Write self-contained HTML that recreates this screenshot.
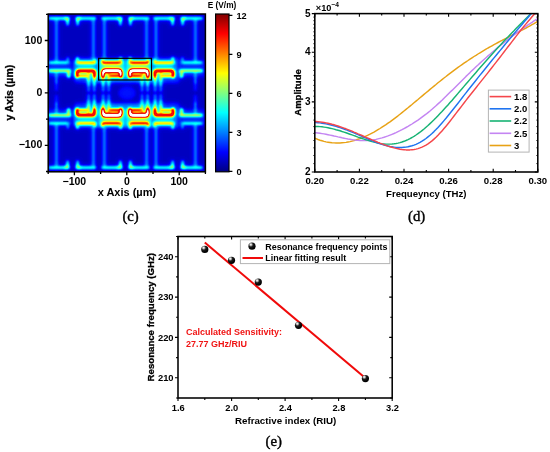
<!DOCTYPE html>
<html><head><meta charset="utf-8"><title>Figure</title>
<style>
html,body{margin:0;padding:0;background:#fff;}
body{width:550px;height:452px;overflow:hidden;}
svg{display:block;}
text{font-family:"Liberation Sans", sans-serif;font-weight:bold;fill:#000;}
.cap{font-family:"Liberation Serif", serif;font-weight:normal;fill:#000;stroke:#000;stroke-width:0.4px;}
</style></head><body>
<svg width="550" height="452" viewBox="0 0 550 452">
<rect width="550" height="452" fill="#fff"/>

<defs>
<filter id="jet" x="-5%" y="-5%" width="110%" height="110%" color-interpolation-filters="sRGB">
<feGaussianBlur in="SourceGraphic" stdDeviation="1.05" result="a"/>
<feGaussianBlur in="SourceGraphic" stdDeviation="2.8" result="b"/>
<feComposite in="a" in2="b" operator="arithmetic" k1="0" k2="1.1" k3="0.6" k4="0.012" result="s"/>
<feComponentTransfer in="s">
<feFuncR type="table" tableValues="0 0 0 0 0.5 1 1 1 0.86 1 1"/>
<feFuncG type="table" tableValues="0 0 0.5 1 1 1 0.5 0 0.12 1 1"/>
<feFuncB type="table" tableValues="0.5 1 1 1 0.5 0 0 0 0.12 1 1"/>
<feFuncA type="linear" slope="0" intercept="1"/>
</feComponentTransfer>
</filter>
<clipPath id="cpc"><rect x="48.2" y="14" width="157.2" height="157.8"/></clipPath>
<linearGradient id="cb" x1="0" y1="1" x2="0" y2="0">
<stop offset="0" stop-color="rgb(0,0,128)"/>
<stop offset="0.125" stop-color="rgb(0,0,255)"/>
<stop offset="0.375" stop-color="rgb(0,255,255)"/>
<stop offset="0.5" stop-color="rgb(128,255,128)"/>
<stop offset="0.625" stop-color="rgb(255,255,0)"/>
<stop offset="0.875" stop-color="rgb(255,0,0)"/>
<stop offset="1" stop-color="rgb(128,0,0)"/>
</linearGradient>
<radialGradient id="ball" cx="0.36" cy="0.3" r="0.62" fx="0.33" fy="0.27">
<stop offset="0" stop-color="#fff"/><stop offset="0.18" stop-color="#cfcfcf"/><stop offset="0.5" stop-color="#1c1c1c"/><stop offset="1" stop-color="#000"/></radialGradient>
</defs>
<g clip-path="url(#cpc)"><g filter="url(#jet)">
<rect x="28.200000000000003" y="-6.0" width="197.2" height="197.8" fill="rgb(6,6,6)"/>
<ellipse cx="127" cy="93" rx="9" ry="7" fill="rgb(15,15,15)"/>
<rect x="74" y="57.5" width="106" height="26" rx="4" fill="rgb(17,17,17)"/>
<rect x="96" y="58.5" width="58" height="24" rx="4" fill="rgb(26,26,26)"/>
<rect x="74" y="102.5" width="106" height="26" rx="4" fill="rgb(17,17,17)"/>
<rect x="96" y="103.5" width="58" height="24" rx="4" fill="rgb(26,26,26)"/>
<rect x="46.2" y="60.1" width="25.700000000000003" height="17.2" rx="2" fill="rgb(15,15,15)"/>
<rect x="46.2" y="108.7" width="25.700000000000003" height="17.2" rx="2" fill="rgb(15,15,15)"/>
<rect x="73.3" y="60.1" width="25.0" height="17.2" rx="2" fill="rgb(27,27,27)"/>
<rect x="73.3" y="108.7" width="25.0" height="17.2" rx="2" fill="rgb(27,27,27)"/>
<rect x="99.1" y="60.1" width="25.60000000000001" height="17.2" rx="2" fill="rgb(41,41,41)"/>
<rect x="99.1" y="108.7" width="25.60000000000001" height="17.2" rx="2" fill="rgb(41,41,41)"/>
<rect x="126.1" y="60.1" width="25.599999999999994" height="17.2" rx="2" fill="rgb(41,41,41)"/>
<rect x="126.1" y="108.7" width="25.599999999999994" height="17.2" rx="2" fill="rgb(41,41,41)"/>
<rect x="151.1" y="60.1" width="25.80000000000001" height="17.2" rx="2" fill="rgb(27,27,27)"/>
<rect x="151.1" y="108.7" width="25.80000000000001" height="17.2" rx="2" fill="rgb(27,27,27)"/>
<rect x="178.3" y="60.1" width="26.69999999999999" height="17.2" rx="2" fill="rgb(15,15,15)"/>
<rect x="178.3" y="108.7" width="26.69999999999999" height="17.2" rx="2" fill="rgb(15,15,15)"/>
<path d="M56.4,18.4 L56.4,62.6" fill="none" stroke="rgb(32,32,32)" stroke-width="3.4" stroke-linecap="round" stroke-linejoin="round"/>
<path d="M49.7,18.4 L68.4,18.4" fill="none" stroke="rgb(60,60,60)" stroke-width="2.8" stroke-linecap="round" stroke-linejoin="round"/>
<path d="M67.6,18.4 L67.6,24.4" fill="none" stroke="rgb(56,56,56)" stroke-width="2.4" stroke-linecap="round" stroke-linejoin="round"/>
<path d="M65.4,18.4 L67.6,18.4 L67.6,20.9" fill="none" stroke="rgb(83,83,83)" stroke-width="2.2" stroke-linecap="round" stroke-linejoin="round"/>
<rect x="49.7" y="62.6" width="18.700000000000003" height="8.2" fill="rgb(14,14,14)"/>
<path d="M56.4,82.8 L56.4,89.8" fill="none" stroke="rgb(22,22,22)" stroke-width="2.6" stroke-linecap="round" stroke-linejoin="round"/>
<path d="M56.4,70.8 L56.4,82.8" fill="none" stroke="rgb(41,41,41)" stroke-width="2.2" stroke-linecap="round" stroke-linejoin="round"/>
<path d="M49.7,62.6 L68.4,62.6" fill="none" stroke="rgb(78,78,78)" stroke-width="1.9" stroke-linecap="round" stroke-linejoin="round"/>
<path d="M67.8,62.6 L67.8,58.1" fill="none" stroke="rgb(45,45,45)" stroke-width="2.0" stroke-linecap="round" stroke-linejoin="round"/>
<path d="M49.7,70.8 L69.7,70.8 L68.7,71.8 L68.7,76.6" fill="none" stroke="rgb(88,88,88)" stroke-width="2.5" stroke-linecap="round" stroke-linejoin="round"/>
<path d="M56.4,167.6 L56.4,123.4" fill="none" stroke="rgb(32,32,32)" stroke-width="3.4" stroke-linecap="round" stroke-linejoin="round"/>
<path d="M49.7,167.6 L68.4,167.6" fill="none" stroke="rgb(60,60,60)" stroke-width="2.8" stroke-linecap="round" stroke-linejoin="round"/>
<path d="M67.6,167.6 L67.6,161.6" fill="none" stroke="rgb(56,56,56)" stroke-width="2.4" stroke-linecap="round" stroke-linejoin="round"/>
<path d="M65.4,167.6 L67.6,167.6 L67.6,165.1" fill="none" stroke="rgb(83,83,83)" stroke-width="2.2" stroke-linecap="round" stroke-linejoin="round"/>
<rect x="49.7" y="115.2" width="18.700000000000003" height="8.2" fill="rgb(14,14,14)"/>
<path d="M56.4,103.2 L56.4,96.2" fill="none" stroke="rgb(22,22,22)" stroke-width="2.6" stroke-linecap="round" stroke-linejoin="round"/>
<path d="M56.4,115.2 L56.4,103.2" fill="none" stroke="rgb(41,41,41)" stroke-width="2.2" stroke-linecap="round" stroke-linejoin="round"/>
<path d="M49.7,123.4 L68.4,123.4" fill="none" stroke="rgb(78,78,78)" stroke-width="1.9" stroke-linecap="round" stroke-linejoin="round"/>
<path d="M67.8,123.4 L67.8,127.9" fill="none" stroke="rgb(45,45,45)" stroke-width="2.0" stroke-linecap="round" stroke-linejoin="round"/>
<path d="M49.7,115.2 L69.7,115.2 L68.7,114.2 L68.7,109.4" fill="none" stroke="rgb(88,88,88)" stroke-width="2.5" stroke-linecap="round" stroke-linejoin="round"/>
<path d="M93.4,18.4 L93.4,62.6" fill="none" stroke="rgb(32,32,32)" stroke-width="3.4" stroke-linecap="round" stroke-linejoin="round"/>
<path d="M76.8,18.4 L94.8,18.4" fill="none" stroke="rgb(60,60,60)" stroke-width="2.8" stroke-linecap="round" stroke-linejoin="round"/>
<path d="M77.6,18.4 L77.6,24.4" fill="none" stroke="rgb(56,56,56)" stroke-width="2.4" stroke-linecap="round" stroke-linejoin="round"/>
<path d="M79.8,18.4 L77.6,18.4 L77.6,20.9" fill="none" stroke="rgb(83,83,83)" stroke-width="2.2" stroke-linecap="round" stroke-linejoin="round"/>
<rect x="76.8" y="62.6" width="18.0" height="8.2" fill="rgb(32,32,32)"/>
<path d="M94.3,84.8 L94.3,90.8" fill="none" stroke="rgb(34,34,34)" stroke-width="2.8" stroke-linecap="round" stroke-linejoin="round"/>
<path d="M94.3,79.8 L94.3,84.8" fill="none" stroke="rgb(61,61,61)" stroke-width="2.6" stroke-linecap="round" stroke-linejoin="round"/>
<path d="M94.3,73.8 L94.3,79.8" fill="none" stroke="rgb(92,92,92)" stroke-width="2.4" stroke-linecap="round" stroke-linejoin="round"/>
<path d="M88.6,84.8 L88.6,90.8" fill="none" stroke="rgb(31,31,31)" stroke-width="2.8" stroke-linecap="round" stroke-linejoin="round"/>
<path d="M88.6,79.8 L88.6,84.8" fill="none" stroke="rgb(56,56,56)" stroke-width="2.6" stroke-linecap="round" stroke-linejoin="round"/>
<path d="M88.6,73.8 L88.6,79.8" fill="none" stroke="rgb(84,84,84)" stroke-width="2.4" stroke-linecap="round" stroke-linejoin="round"/>
<path d="M76.8,62.6 L94.8,62.6" fill="none" stroke="rgb(138,138,138)" stroke-width="1.9" stroke-linecap="round" stroke-linejoin="round"/>
<path d="M77.4,62.6 L77.4,58.1" fill="none" stroke="rgb(80,80,80)" stroke-width="2.0" stroke-linecap="round" stroke-linejoin="round"/>
<path d="M94.8,62.6 L94.8,60.1" fill="none" stroke="rgb(106,106,106)" stroke-width="1.8" stroke-linecap="round" stroke-linejoin="round"/>
<path d="M77.1,76.6 L77.1,71.8 L78.1,70.8 L93.5,70.8 L94.5,71.8 L94.5,76.6" fill="none" stroke="rgb(153,153,153)" stroke-width="2.7" stroke-linecap="round" stroke-linejoin="round"/>
<path d="M79.6,76.0 L86.8,76.0" fill="none" stroke="rgb(122,122,122)" stroke-width="1.8" stroke-linecap="round" stroke-linejoin="round"/>
<path d="M93.4,167.6 L93.4,123.4" fill="none" stroke="rgb(32,32,32)" stroke-width="3.4" stroke-linecap="round" stroke-linejoin="round"/>
<path d="M76.8,167.6 L94.8,167.6" fill="none" stroke="rgb(60,60,60)" stroke-width="2.8" stroke-linecap="round" stroke-linejoin="round"/>
<path d="M77.6,167.6 L77.6,161.6" fill="none" stroke="rgb(56,56,56)" stroke-width="2.4" stroke-linecap="round" stroke-linejoin="round"/>
<path d="M79.8,167.6 L77.6,167.6 L77.6,165.1" fill="none" stroke="rgb(83,83,83)" stroke-width="2.2" stroke-linecap="round" stroke-linejoin="round"/>
<rect x="76.8" y="115.2" width="18.0" height="8.2" fill="rgb(32,32,32)"/>
<path d="M94.3,101.2 L94.3,95.2" fill="none" stroke="rgb(34,34,34)" stroke-width="2.8" stroke-linecap="round" stroke-linejoin="round"/>
<path d="M94.3,106.2 L94.3,101.2" fill="none" stroke="rgb(61,61,61)" stroke-width="2.6" stroke-linecap="round" stroke-linejoin="round"/>
<path d="M94.3,112.2 L94.3,106.2" fill="none" stroke="rgb(92,92,92)" stroke-width="2.4" stroke-linecap="round" stroke-linejoin="round"/>
<path d="M88.6,101.2 L88.6,95.2" fill="none" stroke="rgb(31,31,31)" stroke-width="2.8" stroke-linecap="round" stroke-linejoin="round"/>
<path d="M88.6,106.2 L88.6,101.2" fill="none" stroke="rgb(56,56,56)" stroke-width="2.6" stroke-linecap="round" stroke-linejoin="round"/>
<path d="M88.6,112.2 L88.6,106.2" fill="none" stroke="rgb(84,84,84)" stroke-width="2.4" stroke-linecap="round" stroke-linejoin="round"/>
<path d="M76.8,123.4 L94.8,123.4" fill="none" stroke="rgb(138,138,138)" stroke-width="1.9" stroke-linecap="round" stroke-linejoin="round"/>
<path d="M77.4,123.4 L77.4,127.9" fill="none" stroke="rgb(80,80,80)" stroke-width="2.0" stroke-linecap="round" stroke-linejoin="round"/>
<path d="M94.8,123.4 L94.8,125.9" fill="none" stroke="rgb(106,106,106)" stroke-width="1.8" stroke-linecap="round" stroke-linejoin="round"/>
<path d="M77.1,109.4 L77.1,114.2 L78.1,115.2 L93.5,115.2 L94.5,114.2 L94.5,109.4" fill="none" stroke="rgb(153,153,153)" stroke-width="2.7" stroke-linecap="round" stroke-linejoin="round"/>
<path d="M79.6,110.0 L86.8,110.0" fill="none" stroke="rgb(122,122,122)" stroke-width="1.8" stroke-linecap="round" stroke-linejoin="round"/>
<path d="M104.3,18.4 L104.3,62.6" fill="none" stroke="rgb(32,32,32)" stroke-width="3.4" stroke-linecap="round" stroke-linejoin="round"/>
<path d="M102.6,18.4 L121.2,18.4" fill="none" stroke="rgb(60,60,60)" stroke-width="2.8" stroke-linecap="round" stroke-linejoin="round"/>
<path d="M120.4,18.4 L120.4,24.4" fill="none" stroke="rgb(56,56,56)" stroke-width="2.4" stroke-linecap="round" stroke-linejoin="round"/>
<path d="M118.2,18.4 L120.4,18.4 L120.4,20.9" fill="none" stroke="rgb(83,83,83)" stroke-width="2.2" stroke-linecap="round" stroke-linejoin="round"/>
<rect x="102.6" y="62.6" width="18.60000000000001" height="8.2" fill="rgb(51,51,51)"/>
<path d="M103.1,84.8 L103.1,90.8" fill="none" stroke="rgb(34,34,34)" stroke-width="2.8" stroke-linecap="round" stroke-linejoin="round"/>
<path d="M103.1,79.8 L103.1,84.8" fill="none" stroke="rgb(61,61,61)" stroke-width="2.6" stroke-linecap="round" stroke-linejoin="round"/>
<path d="M103.1,73.8 L103.1,79.8" fill="none" stroke="rgb(92,92,92)" stroke-width="2.4" stroke-linecap="round" stroke-linejoin="round"/>
<path d="M108.8,84.8 L108.8,90.8" fill="none" stroke="rgb(31,31,31)" stroke-width="2.8" stroke-linecap="round" stroke-linejoin="round"/>
<path d="M108.8,79.8 L108.8,84.8" fill="none" stroke="rgb(56,56,56)" stroke-width="2.6" stroke-linecap="round" stroke-linejoin="round"/>
<path d="M108.8,73.8 L108.8,79.8" fill="none" stroke="rgb(84,84,84)" stroke-width="2.4" stroke-linecap="round" stroke-linejoin="round"/>
<path d="M102.6,62.6 L121.2,62.6" fill="none" stroke="rgb(170,170,170)" stroke-width="1.9" stroke-linecap="round" stroke-linejoin="round"/>
<path d="M120.6,62.6 L120.6,58.1" fill="none" stroke="rgb(98,98,98)" stroke-width="2.0" stroke-linecap="round" stroke-linejoin="round"/>
<path d="M102.6,62.6 L102.6,60.1" fill="none" stroke="rgb(131,131,131)" stroke-width="1.8" stroke-linecap="round" stroke-linejoin="round"/>
<path d="M102.9,76.6 L102.9,71.8 L103.9,70.8 L119.9,70.8 L120.9,71.8 L120.9,76.6" fill="none" stroke="rgb(184,184,184)" stroke-width="2.7" stroke-linecap="round" stroke-linejoin="round"/>
<path d="M104.1,70.6 L119.7,70.6" fill="none" stroke="rgb(184,184,184)" stroke-width="3.3" stroke-linecap="round" stroke-linejoin="round"/>
<path d="M110.6,76.0 L118.4,76.0" fill="none" stroke="rgb(147,147,147)" stroke-width="1.8" stroke-linecap="round" stroke-linejoin="round"/>
<path d="M104.3,167.6 L104.3,123.4" fill="none" stroke="rgb(32,32,32)" stroke-width="3.4" stroke-linecap="round" stroke-linejoin="round"/>
<path d="M102.6,167.6 L121.2,167.6" fill="none" stroke="rgb(60,60,60)" stroke-width="2.8" stroke-linecap="round" stroke-linejoin="round"/>
<path d="M120.4,167.6 L120.4,161.6" fill="none" stroke="rgb(56,56,56)" stroke-width="2.4" stroke-linecap="round" stroke-linejoin="round"/>
<path d="M118.2,167.6 L120.4,167.6 L120.4,165.1" fill="none" stroke="rgb(83,83,83)" stroke-width="2.2" stroke-linecap="round" stroke-linejoin="round"/>
<rect x="102.6" y="115.2" width="18.60000000000001" height="8.2" fill="rgb(51,51,51)"/>
<path d="M103.1,101.2 L103.1,95.2" fill="none" stroke="rgb(34,34,34)" stroke-width="2.8" stroke-linecap="round" stroke-linejoin="round"/>
<path d="M103.1,106.2 L103.1,101.2" fill="none" stroke="rgb(61,61,61)" stroke-width="2.6" stroke-linecap="round" stroke-linejoin="round"/>
<path d="M103.1,112.2 L103.1,106.2" fill="none" stroke="rgb(92,92,92)" stroke-width="2.4" stroke-linecap="round" stroke-linejoin="round"/>
<path d="M108.8,101.2 L108.8,95.2" fill="none" stroke="rgb(31,31,31)" stroke-width="2.8" stroke-linecap="round" stroke-linejoin="round"/>
<path d="M108.8,106.2 L108.8,101.2" fill="none" stroke="rgb(56,56,56)" stroke-width="2.6" stroke-linecap="round" stroke-linejoin="round"/>
<path d="M108.8,112.2 L108.8,106.2" fill="none" stroke="rgb(84,84,84)" stroke-width="2.4" stroke-linecap="round" stroke-linejoin="round"/>
<path d="M102.6,123.4 L121.2,123.4" fill="none" stroke="rgb(170,170,170)" stroke-width="1.9" stroke-linecap="round" stroke-linejoin="round"/>
<path d="M120.6,123.4 L120.6,127.9" fill="none" stroke="rgb(98,98,98)" stroke-width="2.0" stroke-linecap="round" stroke-linejoin="round"/>
<path d="M102.6,123.4 L102.6,125.9" fill="none" stroke="rgb(131,131,131)" stroke-width="1.8" stroke-linecap="round" stroke-linejoin="round"/>
<path d="M102.9,109.4 L102.9,114.2 L103.9,115.2 L119.9,115.2 L120.9,114.2 L120.9,109.4" fill="none" stroke="rgb(184,184,184)" stroke-width="2.7" stroke-linecap="round" stroke-linejoin="round"/>
<path d="M104.1,115.4 L119.7,115.4" fill="none" stroke="rgb(184,184,184)" stroke-width="3.3" stroke-linecap="round" stroke-linejoin="round"/>
<path d="M110.6,110.0 L118.4,110.0" fill="none" stroke="rgb(147,147,147)" stroke-width="1.8" stroke-linecap="round" stroke-linejoin="round"/>
<path d="M146.6,18.4 L146.6,62.6" fill="none" stroke="rgb(32,32,32)" stroke-width="3.4" stroke-linecap="round" stroke-linejoin="round"/>
<path d="M129.6,18.4 L148.2,18.4" fill="none" stroke="rgb(60,60,60)" stroke-width="2.8" stroke-linecap="round" stroke-linejoin="round"/>
<path d="M130.4,18.4 L130.4,24.4" fill="none" stroke="rgb(56,56,56)" stroke-width="2.4" stroke-linecap="round" stroke-linejoin="round"/>
<path d="M132.6,18.4 L130.4,18.4 L130.4,20.9" fill="none" stroke="rgb(83,83,83)" stroke-width="2.2" stroke-linecap="round" stroke-linejoin="round"/>
<rect x="129.6" y="62.6" width="18.599999999999994" height="8.2" fill="rgb(51,51,51)"/>
<path d="M147.7,84.8 L147.7,90.8" fill="none" stroke="rgb(34,34,34)" stroke-width="2.8" stroke-linecap="round" stroke-linejoin="round"/>
<path d="M147.7,79.8 L147.7,84.8" fill="none" stroke="rgb(61,61,61)" stroke-width="2.6" stroke-linecap="round" stroke-linejoin="round"/>
<path d="M147.7,73.8 L147.7,79.8" fill="none" stroke="rgb(92,92,92)" stroke-width="2.4" stroke-linecap="round" stroke-linejoin="round"/>
<path d="M142.0,84.8 L142.0,90.8" fill="none" stroke="rgb(31,31,31)" stroke-width="2.8" stroke-linecap="round" stroke-linejoin="round"/>
<path d="M142.0,79.8 L142.0,84.8" fill="none" stroke="rgb(56,56,56)" stroke-width="2.6" stroke-linecap="round" stroke-linejoin="round"/>
<path d="M142.0,73.8 L142.0,79.8" fill="none" stroke="rgb(84,84,84)" stroke-width="2.4" stroke-linecap="round" stroke-linejoin="round"/>
<path d="M129.6,62.6 L148.2,62.6" fill="none" stroke="rgb(170,170,170)" stroke-width="1.9" stroke-linecap="round" stroke-linejoin="round"/>
<path d="M130.2,62.6 L130.2,58.1" fill="none" stroke="rgb(98,98,98)" stroke-width="2.0" stroke-linecap="round" stroke-linejoin="round"/>
<path d="M148.2,62.6 L148.2,60.1" fill="none" stroke="rgb(131,131,131)" stroke-width="1.8" stroke-linecap="round" stroke-linejoin="round"/>
<path d="M129.9,76.6 L129.9,71.8 L130.9,70.8 L146.9,70.8 L147.9,71.8 L147.9,76.6" fill="none" stroke="rgb(184,184,184)" stroke-width="2.7" stroke-linecap="round" stroke-linejoin="round"/>
<path d="M131.1,70.6 L146.7,70.6" fill="none" stroke="rgb(184,184,184)" stroke-width="3.3" stroke-linecap="round" stroke-linejoin="round"/>
<path d="M132.4,76.0 L140.2,76.0" fill="none" stroke="rgb(147,147,147)" stroke-width="1.8" stroke-linecap="round" stroke-linejoin="round"/>
<path d="M146.6,167.6 L146.6,123.4" fill="none" stroke="rgb(32,32,32)" stroke-width="3.4" stroke-linecap="round" stroke-linejoin="round"/>
<path d="M129.6,167.6 L148.2,167.6" fill="none" stroke="rgb(60,60,60)" stroke-width="2.8" stroke-linecap="round" stroke-linejoin="round"/>
<path d="M130.4,167.6 L130.4,161.6" fill="none" stroke="rgb(56,56,56)" stroke-width="2.4" stroke-linecap="round" stroke-linejoin="round"/>
<path d="M132.6,167.6 L130.4,167.6 L130.4,165.1" fill="none" stroke="rgb(83,83,83)" stroke-width="2.2" stroke-linecap="round" stroke-linejoin="round"/>
<rect x="129.6" y="115.2" width="18.599999999999994" height="8.2" fill="rgb(51,51,51)"/>
<path d="M147.7,101.2 L147.7,95.2" fill="none" stroke="rgb(34,34,34)" stroke-width="2.8" stroke-linecap="round" stroke-linejoin="round"/>
<path d="M147.7,106.2 L147.7,101.2" fill="none" stroke="rgb(61,61,61)" stroke-width="2.6" stroke-linecap="round" stroke-linejoin="round"/>
<path d="M147.7,112.2 L147.7,106.2" fill="none" stroke="rgb(92,92,92)" stroke-width="2.4" stroke-linecap="round" stroke-linejoin="round"/>
<path d="M142.0,101.2 L142.0,95.2" fill="none" stroke="rgb(31,31,31)" stroke-width="2.8" stroke-linecap="round" stroke-linejoin="round"/>
<path d="M142.0,106.2 L142.0,101.2" fill="none" stroke="rgb(56,56,56)" stroke-width="2.6" stroke-linecap="round" stroke-linejoin="round"/>
<path d="M142.0,112.2 L142.0,106.2" fill="none" stroke="rgb(84,84,84)" stroke-width="2.4" stroke-linecap="round" stroke-linejoin="round"/>
<path d="M129.6,123.4 L148.2,123.4" fill="none" stroke="rgb(170,170,170)" stroke-width="1.9" stroke-linecap="round" stroke-linejoin="round"/>
<path d="M130.2,123.4 L130.2,127.9" fill="none" stroke="rgb(98,98,98)" stroke-width="2.0" stroke-linecap="round" stroke-linejoin="round"/>
<path d="M148.2,123.4 L148.2,125.9" fill="none" stroke="rgb(131,131,131)" stroke-width="1.8" stroke-linecap="round" stroke-linejoin="round"/>
<path d="M129.9,109.4 L129.9,114.2 L130.9,115.2 L146.9,115.2 L147.9,114.2 L147.9,109.4" fill="none" stroke="rgb(184,184,184)" stroke-width="2.7" stroke-linecap="round" stroke-linejoin="round"/>
<path d="M131.1,115.4 L146.7,115.4" fill="none" stroke="rgb(184,184,184)" stroke-width="3.3" stroke-linecap="round" stroke-linejoin="round"/>
<path d="M132.4,110.0 L140.2,110.0" fill="none" stroke="rgb(147,147,147)" stroke-width="1.8" stroke-linecap="round" stroke-linejoin="round"/>
<path d="M156.0,18.4 L156.0,62.6" fill="none" stroke="rgb(32,32,32)" stroke-width="3.4" stroke-linecap="round" stroke-linejoin="round"/>
<path d="M154.6,18.4 L173.4,18.4" fill="none" stroke="rgb(60,60,60)" stroke-width="2.8" stroke-linecap="round" stroke-linejoin="round"/>
<path d="M172.6,18.4 L172.6,24.4" fill="none" stroke="rgb(56,56,56)" stroke-width="2.4" stroke-linecap="round" stroke-linejoin="round"/>
<path d="M170.4,18.4 L172.6,18.4 L172.6,20.9" fill="none" stroke="rgb(83,83,83)" stroke-width="2.2" stroke-linecap="round" stroke-linejoin="round"/>
<rect x="154.6" y="62.6" width="18.80000000000001" height="8.2" fill="rgb(32,32,32)"/>
<path d="M155.1,84.8 L155.1,90.8" fill="none" stroke="rgb(34,34,34)" stroke-width="2.8" stroke-linecap="round" stroke-linejoin="round"/>
<path d="M155.1,79.8 L155.1,84.8" fill="none" stroke="rgb(61,61,61)" stroke-width="2.6" stroke-linecap="round" stroke-linejoin="round"/>
<path d="M155.1,73.8 L155.1,79.8" fill="none" stroke="rgb(92,92,92)" stroke-width="2.4" stroke-linecap="round" stroke-linejoin="round"/>
<path d="M160.8,84.8 L160.8,90.8" fill="none" stroke="rgb(31,31,31)" stroke-width="2.8" stroke-linecap="round" stroke-linejoin="round"/>
<path d="M160.8,79.8 L160.8,84.8" fill="none" stroke="rgb(56,56,56)" stroke-width="2.6" stroke-linecap="round" stroke-linejoin="round"/>
<path d="M160.8,73.8 L160.8,79.8" fill="none" stroke="rgb(84,84,84)" stroke-width="2.4" stroke-linecap="round" stroke-linejoin="round"/>
<path d="M154.6,62.6 L173.4,62.6" fill="none" stroke="rgb(138,138,138)" stroke-width="1.9" stroke-linecap="round" stroke-linejoin="round"/>
<path d="M172.8,62.6 L172.8,58.1" fill="none" stroke="rgb(80,80,80)" stroke-width="2.0" stroke-linecap="round" stroke-linejoin="round"/>
<path d="M154.6,62.6 L154.6,60.1" fill="none" stroke="rgb(106,106,106)" stroke-width="1.8" stroke-linecap="round" stroke-linejoin="round"/>
<path d="M154.9,76.6 L154.9,71.8 L155.9,70.8 L172.1,70.8 L173.1,71.8 L173.1,76.6" fill="none" stroke="rgb(153,153,153)" stroke-width="2.7" stroke-linecap="round" stroke-linejoin="round"/>
<path d="M162.6,76.0 L170.6,76.0" fill="none" stroke="rgb(122,122,122)" stroke-width="1.8" stroke-linecap="round" stroke-linejoin="round"/>
<path d="M156.0,167.6 L156.0,123.4" fill="none" stroke="rgb(32,32,32)" stroke-width="3.4" stroke-linecap="round" stroke-linejoin="round"/>
<path d="M154.6,167.6 L173.4,167.6" fill="none" stroke="rgb(60,60,60)" stroke-width="2.8" stroke-linecap="round" stroke-linejoin="round"/>
<path d="M172.6,167.6 L172.6,161.6" fill="none" stroke="rgb(56,56,56)" stroke-width="2.4" stroke-linecap="round" stroke-linejoin="round"/>
<path d="M170.4,167.6 L172.6,167.6 L172.6,165.1" fill="none" stroke="rgb(83,83,83)" stroke-width="2.2" stroke-linecap="round" stroke-linejoin="round"/>
<rect x="154.6" y="115.2" width="18.80000000000001" height="8.2" fill="rgb(32,32,32)"/>
<path d="M155.1,101.2 L155.1,95.2" fill="none" stroke="rgb(34,34,34)" stroke-width="2.8" stroke-linecap="round" stroke-linejoin="round"/>
<path d="M155.1,106.2 L155.1,101.2" fill="none" stroke="rgb(61,61,61)" stroke-width="2.6" stroke-linecap="round" stroke-linejoin="round"/>
<path d="M155.1,112.2 L155.1,106.2" fill="none" stroke="rgb(92,92,92)" stroke-width="2.4" stroke-linecap="round" stroke-linejoin="round"/>
<path d="M160.8,101.2 L160.8,95.2" fill="none" stroke="rgb(31,31,31)" stroke-width="2.8" stroke-linecap="round" stroke-linejoin="round"/>
<path d="M160.8,106.2 L160.8,101.2" fill="none" stroke="rgb(56,56,56)" stroke-width="2.6" stroke-linecap="round" stroke-linejoin="round"/>
<path d="M160.8,112.2 L160.8,106.2" fill="none" stroke="rgb(84,84,84)" stroke-width="2.4" stroke-linecap="round" stroke-linejoin="round"/>
<path d="M154.6,123.4 L173.4,123.4" fill="none" stroke="rgb(138,138,138)" stroke-width="1.9" stroke-linecap="round" stroke-linejoin="round"/>
<path d="M172.8,123.4 L172.8,127.9" fill="none" stroke="rgb(80,80,80)" stroke-width="2.0" stroke-linecap="round" stroke-linejoin="round"/>
<path d="M154.6,123.4 L154.6,125.9" fill="none" stroke="rgb(106,106,106)" stroke-width="1.8" stroke-linecap="round" stroke-linejoin="round"/>
<path d="M154.9,109.4 L154.9,114.2 L155.9,115.2 L172.1,115.2 L173.1,114.2 L173.1,109.4" fill="none" stroke="rgb(153,153,153)" stroke-width="2.7" stroke-linecap="round" stroke-linejoin="round"/>
<path d="M162.6,110.0 L170.6,110.0" fill="none" stroke="rgb(122,122,122)" stroke-width="1.8" stroke-linecap="round" stroke-linejoin="round"/>
<path d="M195.4,18.4 L195.4,62.6" fill="none" stroke="rgb(32,32,32)" stroke-width="3.4" stroke-linecap="round" stroke-linejoin="round"/>
<path d="M181.8,18.4 L201.5,18.4" fill="none" stroke="rgb(60,60,60)" stroke-width="2.8" stroke-linecap="round" stroke-linejoin="round"/>
<path d="M182.6,18.4 L182.6,24.4" fill="none" stroke="rgb(56,56,56)" stroke-width="2.4" stroke-linecap="round" stroke-linejoin="round"/>
<path d="M184.8,18.4 L182.6,18.4 L182.6,20.9" fill="none" stroke="rgb(83,83,83)" stroke-width="2.2" stroke-linecap="round" stroke-linejoin="round"/>
<rect x="181.8" y="62.6" width="19.69999999999999" height="8.2" fill="rgb(14,14,14)"/>
<path d="M195.4,82.8 L195.4,89.8" fill="none" stroke="rgb(22,22,22)" stroke-width="2.6" stroke-linecap="round" stroke-linejoin="round"/>
<path d="M195.4,70.8 L195.4,82.8" fill="none" stroke="rgb(41,41,41)" stroke-width="2.2" stroke-linecap="round" stroke-linejoin="round"/>
<path d="M181.8,62.6 L201.5,62.6" fill="none" stroke="rgb(78,78,78)" stroke-width="1.9" stroke-linecap="round" stroke-linejoin="round"/>
<path d="M182.4,62.6 L182.4,58.1" fill="none" stroke="rgb(45,45,45)" stroke-width="2.0" stroke-linecap="round" stroke-linejoin="round"/>
<path d="M201.5,70.8 L180.5,70.8 L181.5,71.8 L181.5,76.6" fill="none" stroke="rgb(88,88,88)" stroke-width="2.5" stroke-linecap="round" stroke-linejoin="round"/>
<path d="M195.4,167.6 L195.4,123.4" fill="none" stroke="rgb(32,32,32)" stroke-width="3.4" stroke-linecap="round" stroke-linejoin="round"/>
<path d="M181.8,167.6 L201.5,167.6" fill="none" stroke="rgb(60,60,60)" stroke-width="2.8" stroke-linecap="round" stroke-linejoin="round"/>
<path d="M182.6,167.6 L182.6,161.6" fill="none" stroke="rgb(56,56,56)" stroke-width="2.4" stroke-linecap="round" stroke-linejoin="round"/>
<path d="M184.8,167.6 L182.6,167.6 L182.6,165.1" fill="none" stroke="rgb(83,83,83)" stroke-width="2.2" stroke-linecap="round" stroke-linejoin="round"/>
<rect x="181.8" y="115.2" width="19.69999999999999" height="8.2" fill="rgb(14,14,14)"/>
<path d="M195.4,103.2 L195.4,96.2" fill="none" stroke="rgb(22,22,22)" stroke-width="2.6" stroke-linecap="round" stroke-linejoin="round"/>
<path d="M195.4,115.2 L195.4,103.2" fill="none" stroke="rgb(41,41,41)" stroke-width="2.2" stroke-linecap="round" stroke-linejoin="round"/>
<path d="M181.8,123.4 L201.5,123.4" fill="none" stroke="rgb(78,78,78)" stroke-width="1.9" stroke-linecap="round" stroke-linejoin="round"/>
<path d="M182.4,123.4 L182.4,127.9" fill="none" stroke="rgb(45,45,45)" stroke-width="2.0" stroke-linecap="round" stroke-linejoin="round"/>
<path d="M201.5,115.2 L180.5,115.2 L181.5,114.2 L181.5,109.4" fill="none" stroke="rgb(88,88,88)" stroke-width="2.5" stroke-linecap="round" stroke-linejoin="round"/>
</g></g>
<rect x="98.6" y="58.3" width="52.9" height="21.7" fill="none" stroke="#000" stroke-width="1.2"/>
<rect x="48.2" y="14.0" width="157.2" height="157.8" fill="none" stroke="#000" stroke-width="1.5"/>
<path d="M74.4,171.8 v3.4 M48.2,145.3 h-3.4 M126.8,171.8 v3.4 M48.2,92.9 h-3.4 M179.2,171.8 v3.4 M48.2,40.5 h-3.4 M48.2,171.8 v2.2 M48.2,171.5 h-2.2 M100.6,171.8 v2.2 M48.2,119.1 h-2.2 M153.0,171.8 v2.2 M48.2,66.7 h-2.2 M205.4,171.8 v2.2 M48.2,14.3 h-2.2" stroke="#000" stroke-width="1.3" fill="none"/>
<text x="74.4" y="185.4" text-anchor="middle" style="font-size:10.5px;">−100</text>
<text x="42.3" y="148.4" text-anchor="end" style="font-size:10.5px;">−100</text>
<text x="126.8" y="185.4" text-anchor="middle" style="font-size:10.5px;">0</text>
<text x="42.3" y="96.0" text-anchor="end" style="font-size:10.5px;">0</text>
<text x="179.2" y="185.4" text-anchor="middle" style="font-size:10.5px;">100</text>
<text x="42.3" y="43.6" text-anchor="end" style="font-size:10.5px;">100</text>
<text x="126.9" y="196.4" text-anchor="middle" style="font-size:11.0px;">x Axis (µm)</text>
<text transform="translate(12.5,92.7) rotate(-90)" text-anchor="middle" style="font-size:10.5px;stroke:#000;stroke-width:0.3px">y Axis (µm)</text>
<rect x="215.6" y="14.0" width="13.400000000000006" height="157.8" fill="url(#cb)" stroke="#000" stroke-width="1.2"/>
<text x="236.4" y="174.8" text-anchor="start" style="font-size:9.2px;">0</text>
<text x="236.4" y="135.8" text-anchor="start" style="font-size:9.2px;">3</text>
<text x="236.4" y="96.8" text-anchor="start" style="font-size:9.2px;">6</text>
<text x="236.4" y="57.7" text-anchor="start" style="font-size:9.2px;">9</text>
<text x="236.4" y="18.7" text-anchor="start" style="font-size:9.2px;">12</text>
<path d="M229.0,171.4 h3.4 M229.0,132.4 h3.4 M229.0,93.4 h3.4 M229.0,54.3 h3.4 M229.0,15.3 h3.4" stroke="#000" stroke-width="1.3" fill="none"/>
<text x="207.8" y="8.3" text-anchor="start" style="font-size:8.25px;">E (V/m)</text>
<text class="cap" x="130.6" y="221.0" text-anchor="middle" style="font-size:14.8px;">(c)</text>
<clipPath id="cpd"><rect x="314.8" y="13.6" width="222.99999999999994" height="158.4"/></clipPath>
<g clip-path="url(#cpd)" fill="none" stroke-width="1.45" stroke-linejoin="round">
<path d="M314.0,137.9 L316.0,138.7 L318.0,139.5 L320.0,140.2 L322.0,140.8 L324.0,141.4 L326.0,141.9 L328.0,142.2 L330.0,142.5 L332.0,142.8 L334.0,142.9 L336.0,143.0 L338.0,143.0 L340.0,143.0 L342.0,142.8 L344.0,142.6 L346.0,142.4 L348.0,142.0 L350.0,141.6 L352.0,141.1 L354.0,140.6 L356.0,140.0 L358.0,139.3 L360.0,138.6 L362.0,137.8 L364.0,137.0 L366.0,136.1 L368.0,135.2 L370.0,134.2 L372.0,133.1 L374.0,132.1 L376.0,130.9 L378.0,129.7 L380.0,128.5 L382.0,127.2 L384.0,125.9 L386.0,124.6 L388.0,123.2 L390.0,121.8 L392.0,120.3 L394.0,118.8 L396.0,117.3 L398.0,115.8 L400.0,114.2 L402.0,112.6 L404.0,111.0 L406.0,109.4 L408.0,107.8 L410.0,106.1 L412.0,104.5 L414.0,102.8 L416.0,101.1 L418.0,99.5 L420.0,97.8 L422.0,96.1 L424.0,94.4 L426.0,92.7 L428.0,91.1 L430.0,89.4 L432.0,87.7 L434.0,86.1 L436.0,84.5 L438.0,82.8 L440.0,81.2 L442.0,79.6 L444.0,78.0 L446.0,76.5 L448.0,74.9 L450.0,73.4 L452.0,71.9 L454.0,70.4 L456.0,68.9 L458.0,67.4 L460.0,66.0 L462.0,64.6 L464.0,63.2 L466.0,61.8 L468.0,60.5 L470.0,59.1 L472.0,57.8 L474.0,56.5 L476.0,55.3 L478.0,54.0 L480.0,52.8 L482.0,51.6 L484.0,50.4 L486.0,49.2 L488.0,48.0 L490.0,46.9 L492.0,45.8 L494.0,44.7 L496.0,43.6 L498.0,42.5 L500.0,41.4 L502.0,40.4 L504.0,39.3 L506.0,38.3 L508.0,37.3 L510.0,36.2 L512.0,35.2 L514.0,34.2 L516.0,33.2 L518.0,32.1 L520.0,31.1 L522.0,30.1 L524.0,29.0 L526.0,28.0 L528.0,26.9 L530.0,25.8 L532.0,24.7 L534.0,23.6 L536.0,22.4 L538.0,21.3 L540.0,20.1" stroke="#e8a215"/>
<path d="M314.0,132.7 L316.0,132.8 L318.0,133.0 L320.0,133.3 L322.0,133.6 L324.0,133.9 L326.0,134.3 L328.0,134.7 L330.0,135.1 L332.0,135.5 L334.0,136.0 L336.0,136.4 L338.0,136.9 L340.0,137.3 L342.0,137.8 L344.0,138.2 L346.0,138.6 L348.0,139.0 L350.0,139.3 L352.0,139.6 L354.0,139.9 L356.0,140.2 L358.0,140.4 L360.0,140.5 L362.0,140.6 L364.0,140.6 L366.0,140.6 L368.0,140.5 L370.0,140.3 L372.0,140.1 L374.0,139.8 L376.0,139.4 L378.0,138.9 L380.0,138.4 L382.0,137.9 L384.0,137.3 L386.0,136.6 L388.0,135.9 L390.0,135.1 L392.0,134.3 L394.0,133.5 L396.0,132.6 L398.0,131.6 L400.0,130.7 L402.0,129.7 L404.0,128.6 L406.0,127.5 L408.0,126.4 L410.0,125.2 L412.0,124.0 L414.0,122.7 L416.0,121.4 L418.0,120.1 L420.0,118.7 L422.0,117.2 L424.0,115.7 L426.0,114.2 L428.0,112.6 L430.0,111.0 L432.0,109.3 L434.0,107.5 L436.0,105.8 L438.0,103.9 L440.0,102.1 L442.0,100.2 L444.0,98.2 L446.0,96.3 L448.0,94.3 L450.0,92.3 L452.0,90.4 L454.0,88.4 L456.0,86.4 L458.0,84.4 L460.0,82.4 L462.0,80.4 L464.0,78.4 L466.0,76.4 L468.0,74.5 L470.0,72.6 L472.0,70.6 L474.0,68.7 L476.0,66.8 L478.0,65.0 L480.0,63.1 L482.0,61.3 L484.0,59.5 L486.0,57.7 L488.0,55.9 L490.0,54.2 L492.0,52.5 L494.0,50.8 L496.0,49.1 L498.0,47.4 L500.0,45.8 L502.0,44.2 L504.0,42.6 L506.0,41.0 L508.0,39.4 L510.0,37.9 L512.0,36.4 L514.0,34.9 L516.0,33.4 L518.0,31.9 L520.0,30.5 L522.0,29.1 L524.0,27.7 L526.0,26.3 L528.0,24.9 L530.0,23.6 L532.0,22.3 L534.0,20.9 L536.0,19.6 L538.0,18.4 L540.0,17.1" stroke="#c485f2"/>
<path d="M314.0,126.4 L316.0,126.4 L318.0,126.5 L320.0,126.6 L322.0,126.8 L324.0,127.1 L326.0,127.4 L328.0,127.8 L330.0,128.2 L332.0,128.6 L334.0,129.1 L336.0,129.7 L338.0,130.2 L340.0,130.8 L342.0,131.5 L344.0,132.1 L346.0,132.8 L348.0,133.5 L350.0,134.2 L352.0,134.9 L354.0,135.6 L356.0,136.3 L358.0,137.1 L360.0,137.8 L362.0,138.5 L364.0,139.1 L366.0,139.8 L368.0,140.4 L370.0,141.0 L372.0,141.6 L374.0,142.1 L376.0,142.6 L378.0,143.0 L380.0,143.4 L382.0,143.7 L384.0,143.9 L386.0,144.1 L388.0,144.1 L390.0,144.1 L392.0,144.0 L394.0,143.8 L396.0,143.5 L398.0,143.1 L400.0,142.6 L402.0,142.0 L404.0,141.3 L406.0,140.5 L408.0,139.6 L410.0,138.6 L412.0,137.5 L414.0,136.3 L416.0,135.0 L418.0,133.6 L420.0,132.2 L422.0,130.6 L424.0,129.0 L426.0,127.2 L428.0,125.5 L430.0,123.6 L432.0,121.7 L434.0,119.8 L436.0,117.8 L438.0,115.7 L440.0,113.6 L442.0,111.5 L444.0,109.3 L446.0,107.1 L448.0,104.9 L450.0,102.6 L452.0,100.4 L454.0,98.1 L456.0,95.8 L458.0,93.4 L460.0,91.1 L462.0,88.8 L464.0,86.4 L466.0,84.1 L468.0,81.8 L470.0,79.4 L472.0,77.1 L474.0,74.7 L476.0,72.4 L478.0,70.1 L480.0,67.8 L482.0,65.5 L484.0,63.2 L486.0,60.9 L488.0,58.7 L490.0,56.4 L492.0,54.2 L494.0,52.0 L496.0,49.8 L498.0,47.6 L500.0,45.4 L502.0,43.3 L504.0,41.1 L506.0,39.0 L508.0,36.9 L510.0,34.8 L512.0,32.7 L514.0,30.7 L516.0,28.6 L518.0,26.6 L520.0,24.5 L522.0,22.5 L524.0,20.4 L526.0,18.4 L528.0,16.4 L530.0,14.4 L532.0,12.3 L534.0,10.3 L536.0,8.3 L538.0,6.2 L540.0,4.1" stroke="#17b374"/>
<path d="M314.0,122.3 L316.0,122.5 L318.0,122.7 L320.0,122.9 L322.0,123.2 L324.0,123.5 L326.0,123.9 L328.0,124.3 L330.0,124.8 L332.0,125.3 L334.0,125.8 L336.0,126.4 L338.0,127.0 L340.0,127.6 L342.0,128.3 L344.0,129.0 L346.0,129.7 L348.0,130.5 L350.0,131.3 L352.0,132.1 L354.0,132.9 L356.0,133.8 L358.0,134.6 L360.0,135.5 L362.0,136.4 L364.0,137.3 L366.0,138.1 L368.0,139.0 L370.0,139.8 L372.0,140.7 L374.0,141.5 L376.0,142.3 L378.0,143.0 L380.0,143.7 L382.0,144.4 L384.0,145.0 L386.0,145.5 L388.0,146.0 L390.0,146.5 L392.0,146.8 L394.0,147.1 L396.0,147.4 L398.0,147.5 L400.0,147.5 L402.0,147.5 L404.0,147.3 L406.0,147.1 L408.0,146.8 L410.0,146.3 L412.0,145.8 L414.0,145.1 L416.0,144.3 L418.0,143.4 L420.0,142.4 L422.0,141.2 L424.0,139.9 L426.0,138.5 L428.0,136.9 L430.0,135.3 L432.0,133.5 L434.0,131.6 L436.0,129.6 L438.0,127.5 L440.0,125.3 L442.0,123.0 L444.0,120.6 L446.0,118.3 L448.0,115.8 L450.0,113.3 L452.0,110.8 L454.0,108.3 L456.0,105.7 L458.0,103.2 L460.0,100.6 L462.0,98.0 L464.0,95.4 L466.0,92.9 L468.0,90.3 L470.0,87.8 L472.0,85.2 L474.0,82.7 L476.0,80.2 L478.0,77.6 L480.0,75.1 L482.0,72.7 L484.0,70.2 L486.0,67.7 L488.0,65.2 L490.0,62.8 L492.0,60.3 L494.0,57.9 L496.0,55.5 L498.0,53.0 L500.0,50.6 L502.0,48.2 L504.0,45.8 L506.0,43.4 L508.0,41.0 L510.0,38.6 L512.0,36.2 L514.0,33.8 L516.0,31.4 L518.0,29.1 L520.0,26.7 L522.0,24.4 L524.0,22.0 L526.0,19.7 L528.0,17.4 L530.0,15.0 L532.0,12.7 L534.0,10.4 L536.0,8.1 L538.0,5.9 L540.0,3.6" stroke="#1f74f0"/>
<path d="M314.0,121.4 L316.0,121.5 L318.0,121.7 L320.0,121.9 L322.0,122.2 L324.0,122.5 L326.0,122.9 L328.0,123.3 L330.0,123.7 L332.0,124.3 L334.0,124.8 L336.0,125.4 L338.0,126.0 L340.0,126.7 L342.0,127.4 L344.0,128.1 L346.0,128.8 L348.0,129.6 L350.0,130.4 L352.0,131.2 L354.0,132.1 L356.0,132.9 L358.0,133.8 L360.0,134.6 L362.0,135.5 L364.0,136.4 L366.0,137.3 L368.0,138.1 L370.0,139.0 L372.0,139.9 L374.0,140.7 L376.0,141.5 L378.0,142.4 L380.0,143.2 L382.0,143.9 L384.0,144.7 L386.0,145.4 L388.0,146.1 L390.0,146.7 L392.0,147.3 L394.0,147.9 L396.0,148.4 L398.0,148.8 L400.0,149.2 L402.0,149.5 L404.0,149.7 L406.0,149.9 L408.0,149.9 L410.0,149.9 L412.0,149.7 L414.0,149.5 L416.0,149.1 L418.0,148.6 L420.0,147.9 L422.0,147.1 L424.0,146.2 L426.0,145.1 L428.0,143.8 L430.0,142.4 L432.0,140.9 L434.0,139.1 L436.0,137.3 L438.0,135.3 L440.0,133.1 L442.0,130.9 L444.0,128.6 L446.0,126.2 L448.0,123.7 L450.0,121.2 L452.0,118.6 L454.0,116.0 L456.0,113.4 L458.0,110.8 L460.0,108.2 L462.0,105.6 L464.0,103.0 L466.0,100.4 L468.0,97.8 L470.0,95.3 L472.0,92.7 L474.0,90.2 L476.0,87.7 L478.0,85.1 L480.0,82.6 L482.0,80.1 L484.0,77.6 L486.0,75.1 L488.0,72.6 L490.0,70.0 L492.0,67.5 L494.0,64.9 L496.0,62.4 L498.0,59.8 L500.0,57.2 L502.0,54.6 L504.0,52.0 L506.0,49.4 L508.0,46.8 L510.0,44.2 L512.0,41.6 L514.0,39.0 L516.0,36.4 L518.0,33.9 L520.0,31.3 L522.0,28.8 L524.0,26.3 L526.0,23.9 L528.0,21.5 L530.0,19.2 L532.0,16.8 L534.0,14.5 L536.0,12.1 L538.0,9.5 L540.0,6.5" stroke="#f5464b"/>
</g>
<rect x="314.8" y="13.6" width="222.99999999999994" height="158.4" fill="none" stroke="#000" stroke-width="1.55"/>
<path d="M314.8,172.0 v-3.2 M314.8,13.6 v3.2 M337.1,172.0 v-2.0 M337.1,13.6 v2.0 M359.4,172.0 v-3.2 M359.4,13.6 v3.2 M381.7,172.0 v-2.0 M381.7,13.6 v2.0 M404.0,172.0 v-3.2 M404.0,13.6 v3.2 M426.3,172.0 v-2.0 M426.3,13.6 v2.0 M448.6,172.0 v-3.2 M448.6,13.6 v3.2 M470.9,172.0 v-2.0 M470.9,13.6 v2.0 M493.2,172.0 v-3.2 M493.2,13.6 v3.2 M515.5,172.0 v-2.0 M515.5,13.6 v2.0 M537.8,172.0 v-3.2 M537.8,13.6 v3.2 M314.8,172.0 h-3.0 M537.8,172.0 h-3.0 M314.8,101.9 h-3.0 M537.8,101.9 h-3.0 M314.8,52.2 h-3.0 M537.8,52.2 h-3.0 M314.8,13.6 h-3.0 M537.8,13.6 h-3.0" stroke="#000" stroke-width="1.1" fill="none"/>
<path d="M314.8,163.6 h-1.5 M537.8,163.6 h-1.5 M314.8,155.5 h-1.5 M537.8,155.5 h-1.5 M314.8,147.8 h-1.5 M537.8,147.8 h-1.5 M314.8,140.5 h-1.5 M537.8,140.5 h-1.5 M314.8,133.4 h-1.5 M537.8,133.4 h-1.5 M314.8,126.6 h-1.5 M537.8,126.6 h-1.5 M314.8,120.1 h-1.5 M537.8,120.1 h-1.5 M314.8,113.8 h-1.5 M537.8,113.8 h-1.5 M314.8,107.8 h-1.5 M537.8,107.8 h-1.5 M314.8,96.2 h-1.5 M537.8,96.2 h-1.5 M314.8,90.8 h-1.5 M537.8,90.8 h-1.5 M314.8,85.4 h-1.5 M537.8,85.4 h-1.5 M314.8,80.3 h-1.5 M537.8,80.3 h-1.5 M314.8,75.3 h-1.5 M537.8,75.3 h-1.5 M314.8,70.4 h-1.5 M537.8,70.4 h-1.5 M314.8,65.7 h-1.5 M537.8,65.7 h-1.5 M314.8,61.0 h-1.5 M537.8,61.0 h-1.5 M314.8,56.6 h-1.5 M537.8,56.6 h-1.5 M314.8,47.9 h-1.5 M537.8,47.9 h-1.5 M314.8,43.7 h-1.5 M537.8,43.7 h-1.5 M314.8,39.7 h-1.5 M537.8,39.7 h-1.5 M314.8,35.7 h-1.5 M537.8,35.7 h-1.5 M314.8,31.8 h-1.5 M537.8,31.8 h-1.5 M314.8,28.0 h-1.5 M537.8,28.0 h-1.5 M314.8,24.3 h-1.5 M537.8,24.3 h-1.5 M314.8,20.7 h-1.5 M537.8,20.7 h-1.5 M314.8,17.1 h-1.5 M537.8,17.1 h-1.5" stroke="#000" stroke-width="0.8" fill="none"/>
<text x="314.8" y="184.0" text-anchor="middle" style="font-size:9.6px;">0.20</text>
<text x="359.4" y="184.0" text-anchor="middle" style="font-size:9.6px;">0.22</text>
<text x="404.0" y="184.0" text-anchor="middle" style="font-size:9.6px;">0.24</text>
<text x="448.6" y="184.0" text-anchor="middle" style="font-size:9.6px;">0.26</text>
<text x="493.2" y="184.0" text-anchor="middle" style="font-size:9.6px;">0.28</text>
<text x="537.8" y="184.0" text-anchor="middle" style="font-size:9.6px;">0.30</text>
<text x="310.5" y="175.2" text-anchor="end" style="font-size:10.0px;">2</text>
<text x="310.5" y="105.1" text-anchor="end" style="font-size:10.0px;">3</text>
<text x="310.5" y="55.4" text-anchor="end" style="font-size:10.0px;">4</text>
<text x="310.5" y="16.8" text-anchor="end" style="font-size:10.0px;">5</text>
<text x="426.3" y="196.8" text-anchor="middle" style="font-size:9.6px;">Frequeyncy (THz)</text>
<text transform="translate(300.8,92.5) rotate(-90)" text-anchor="middle" style="font-size:9.5px;stroke:#000;stroke-width:0.3px">Amplitude</text>
<text x="315.8" y="10.8" style="font-size:9.2px">×10<tspan dy="-3.6" style="font-size:6.6px">−4</tspan></text>
<rect x="488.4" y="90.1" width="40.7" height="62" fill="#fff" stroke="#b4b4b4" stroke-width="1"/>
<path d="M489.6,96.6 H511.2" stroke="#f5464b" stroke-width="1.6"/>
<text x="514.0" y="99.9" text-anchor="start" style="font-size:9.5px;">1.8</text>
<path d="M489.6,108.8 H511.2" stroke="#1f74f0" stroke-width="1.6"/>
<text x="514.0" y="112.1" text-anchor="start" style="font-size:9.5px;">2.0</text>
<path d="M489.6,121.0 H511.2" stroke="#17b374" stroke-width="1.6"/>
<text x="514.0" y="124.3" text-anchor="start" style="font-size:9.5px;">2.2</text>
<path d="M489.6,133.3 H511.2" stroke="#c485f2" stroke-width="1.6"/>
<text x="514.0" y="136.6" text-anchor="start" style="font-size:9.5px;">2.5</text>
<path d="M489.6,145.5 H511.2" stroke="#e8a215" stroke-width="1.6"/>
<text x="514.0" y="148.8" text-anchor="start" style="font-size:9.5px;">3</text>
<text class="cap" x="416.6" y="221.2" text-anchor="middle" style="font-size:14.8px;">(d)</text>
<rect x="178.0" y="236.5" width="214.2" height="161.5" fill="none" stroke="#000" stroke-width="1.55"/>
<path d="M178.0,398.0 v3.0 M178.0,236.5 v3.0 M204.8,398.0 v1.9 M204.8,236.5 v1.9 M231.6,398.0 v3.0 M231.6,236.5 v3.0 M258.3,398.0 v1.9 M258.3,236.5 v1.9 M285.1,398.0 v3.0 M285.1,236.5 v3.0 M311.9,398.0 v1.9 M311.9,236.5 v1.9 M338.6,398.0 v3.0 M338.6,236.5 v3.0 M365.4,398.0 v1.9 M365.4,236.5 v1.9 M392.2,398.0 v3.0 M392.2,236.5 v3.0 M178.0,398.0 h-1.9 M392.2,398.0 h-1.9 M178.0,377.8 h-3.0 M392.2,377.8 h-3.0 M178.0,357.6 h-1.9 M392.2,357.6 h-1.9 M178.0,337.4 h-3.0 M392.2,337.4 h-3.0 M178.0,317.2 h-1.9 M392.2,317.2 h-1.9 M178.0,297.1 h-3.0 M392.2,297.1 h-3.0 M178.0,276.9 h-1.9 M392.2,276.9 h-1.9 M178.0,256.7 h-3.0 M392.2,256.7 h-3.0 M178.0,236.5 h-1.9 M392.2,236.5 h-1.9" stroke="#000" stroke-width="1.1" fill="none"/>
<text x="178.3" y="411.0" text-anchor="middle" style="font-size:9.3px;">1.6</text>
<text x="231.8" y="411.0" text-anchor="middle" style="font-size:9.3px;">2.0</text>
<text x="285.4" y="411.0" text-anchor="middle" style="font-size:9.3px;">2.4</text>
<text x="338.9" y="411.0" text-anchor="middle" style="font-size:9.3px;">2.8</text>
<text x="392.5" y="411.0" text-anchor="middle" style="font-size:9.3px;">3.2</text>
<text x="173.6" y="381.1" text-anchor="end" style="font-size:9.4px;">210</text>
<text x="173.6" y="340.7" text-anchor="end" style="font-size:9.4px;">220</text>
<text x="173.6" y="300.4" text-anchor="end" style="font-size:9.4px;">230</text>
<text x="173.6" y="260.0" text-anchor="end" style="font-size:9.4px;">240</text>
<text x="285.6" y="423.6" text-anchor="middle" style="font-size:9.75px;">Refractive index (RIU)</text>
<text transform="translate(153.6,317.2) rotate(-90)" text-anchor="middle" style="font-size:9.65px;stroke:#000;stroke-width:0.3px">Resonance frequency (GHz)</text>
<path d="M204.8,242.6 L365.3,378.0" stroke="#f00a0a" stroke-width="2" stroke-linecap="butt"/>
<circle cx="204.8" cy="249.4" r="3.6" fill="url(#ball)"/>
<circle cx="231.5" cy="260.3" r="3.6" fill="url(#ball)"/>
<circle cx="258.3" cy="282.1" r="3.6" fill="url(#ball)"/>
<circle cx="298.5" cy="325.3" r="3.6" fill="url(#ball)"/>
<circle cx="365.4" cy="378.6" r="3.6" fill="url(#ball)"/>
<rect x="240.4" y="239.8" width="149.4" height="23.8" fill="#fff" stroke="#b4b4b4" stroke-width="1"/>
<circle cx="252" cy="246.2" r="3.6" fill="url(#ball)"/>
<path d="M242.5,258 H263" stroke="#f00a0a" stroke-width="2"/>
<text x="265.3" y="249.5" text-anchor="start" style="font-size:8.95px;">Resonance frequency points</text>
<text x="265.3" y="261.3" text-anchor="start" style="font-size:8.95px;">Linear fitting result</text>
<text x="186.0" y="335.0" text-anchor="start" style="font-size:9.0px;fill:#f01414;">Calculated Sensitivity:</text>
<text x="186.0" y="347.0" text-anchor="start" style="font-size:9.0px;fill:#f01414;">27.77 GHz/RIU</text>
<text class="cap" x="273.7" y="445.6" text-anchor="middle" style="font-size:14.8px;">(e)</text>
</svg></body></html>
